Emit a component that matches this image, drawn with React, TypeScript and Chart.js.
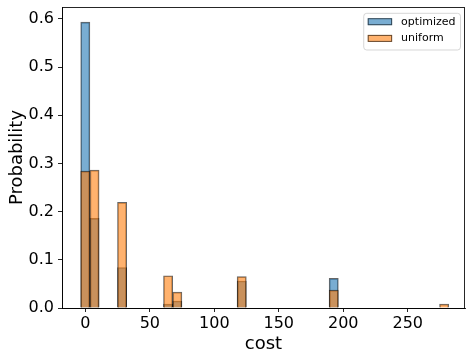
import React, { useEffect, useRef } from 'react';
import { Chart, registerables } from 'chart.js';

Chart.register(...registerables);

// Histogram bins (40 equal bins)
const binStart = -3.6;
const binWidth = 7.135;
const binCount = 40;

// Probability per bin
const optimized = [
  0.593, 0.186, 0, 0, 0.084, 0, 0, 0, 0, 0.008,
  0.0145, 0, 0, 0, 0, 0, 0, 0.056, 0, 0,
  0, 0, 0, 0, 0, 0, 0, 0.0616, 0, 0,
  0, 0, 0, 0, 0, 0, 0, 0, 0, 0,
];
const uniform = [
  0.284, 0.286, 0, 0, 0.219, 0, 0, 0, 0, 0.067,
  0.033, 0, 0, 0, 0, 0, 0, 0.065, 0, 0,
  0, 0, 0, 0, 0, 0, 0, 0.037, 0, 0,
  0, 0, 0, 0, 0, 0, 0, 0, 0, 0.008,
];
const seriesLabels = ['optimized', 'uniform'];
const xTickValues = [0, 50, 100, 150, 200, 250];
const yTickValues = [0, 0.1, 0.2, 0.3, 0.4, 0.5, 0.6];
const xTitle = 'cost';
const yTitle = 'Probability';

const FONT = "'DejaVu Sans', sans-serif";
const fills = ['rgba(31,119,180,0.6)', 'rgba(255,127,14,0.6)'];
const edge = 'rgba(0,0,0,0.6)';
const axisColor = 'rgba(0,0,0,0.85)';

const framePlugin = {
  id: 'frameAndLegend',
  afterDatasetsDraw(chart: any) {
    const { ctx, chartArea } = chart;
    const { left, right, top, bottom } = chartArea;
    ctx.save();
    // frame (spines)
    ctx.strokeStyle = axisColor;
    ctx.lineWidth = 1;
    ctx.strokeRect(left + 0.5, top + 0.5, right - left - 1, bottom - top);

    // legend
    ctx.font = `11px ${FONT}`;
    const labels = chart.data.datasets.map((d: any) => d.label);
    const textW = Math.max(...labels.map((l: string) => ctx.measureText(l).width));
    const padL = 4, patchW = 24.4, gap = 9, padR = 5;
    const boxW = padL + patchW + gap + textW + padR;
    const boxH = 36.7;
    const bx = right - 4.5 - boxW;
    const by = top + 6.3;
    ctx.beginPath();
    if ((ctx as any).roundRect) (ctx as any).roundRect(bx, by, boxW, boxH, 3);
    else ctx.rect(bx, by, boxW, boxH);
    ctx.fillStyle = 'rgba(255,255,255,0.8)';
    ctx.fill();
    ctx.strokeStyle = 'rgba(204,204,204,0.8)';
    ctx.lineWidth = 1;
    ctx.stroke();
    const rowCenters = [by + 8.4, by + 25.1];
    chart.data.datasets.forEach((d: any, i: number) => {
      const cy = rowCenters[i];
      const px = bx + padL;
      const ph = 7;
      ctx.fillStyle = '#fff';
      ctx.fillRect(px, cy - ph / 2, patchW, ph);
      ctx.fillStyle = d.backgroundColor;
      ctx.fillRect(px, cy - ph / 2, patchW, ph);
      ctx.strokeStyle = edge;
      ctx.lineWidth = 1;
      ctx.strokeRect(px + 0.5, cy - ph / 2 + 0.5, patchW - 1, ph - 1);
      ctx.fillStyle = '#000';
      ctx.textAlign = 'left';
      ctx.textBaseline = 'middle';
      ctx.fillText(d.label, px + patchW + gap, cy);
    });
    ctx.restore();
  },
};

export default function App() {
  const ref = useRef<HTMLCanvasElement | null>(null);

  useEffect(() => {
    document.body.style.margin = '0';
    if (!ref.current) return;
    const centers = Array.from({ length: binCount }, (_, i) => binStart + binWidth * (i + 0.5));
    const series = [optimized, uniform];
    const chart = new Chart(ref.current, {
      type: 'bar',
      data: {
        datasets: series.map((vals, s) => ({
          label: seriesLabels[s],
          data: vals.map((y, i) => ({ x: centers[i], y })),
          backgroundColor: fills[s],
          borderColor: edge,
          borderWidth: 1,
          barPercentage: 1,
          categoryPercentage: 1,
          grouped: false,
          order: 2 - s,
        })),
      },
      options: {
        responsive: false,
        animation: false,
        maintainAspectRatio: false,
        layout: { padding: { left: 0, top: 7, right: 9, bottom: 0 } },
        plugins: {
          legend: { display: false },
          tooltip: { enabled: false },
        },
        scales: {
          x: {
            type: 'linear',
            offset: false,
            min: -18.1,
            max: 294.4,
            afterBuildTicks: (scale: any) => {
              scale.ticks = xTickValues.map((v) => ({ value: v }));
            },
            afterFit: (scale: any) => {
              scale.height = 52;
              scale.paddingLeft = 0;
              scale.paddingRight = 0;
            },
            ticks: {
              color: '#000',
              font: { family: FONT, size: 16 },
              padding: 2,
              maxRotation: 0,
              callback: (v: any) => String(v),
            },
            grid: {
              display: true,
              offset: false,
              drawOnChartArea: false,
              drawTicks: true,
              tickLength: 4,
              color: axisColor,
            },
            border: { display: true, color: axisColor, width: 1 },
            title: {
              display: true,
              text: xTitle,
              color: '#000',
              font: { family: FONT, size: 18 },
              padding: { top: 0, bottom: 5 },
            },
          },
          y: {
            type: 'linear',
            min: 0,
            max: 0.6245,
            afterBuildTicks: (scale: any) => {
              scale.ticks = yTickValues.map((v) => ({ value: v }));
            },
            afterFit: (scale: any) => {
              scale.width = 62;
              scale.paddingTop = 0;
              scale.paddingBottom = 0;
            },
            ticks: {
              color: '#000',
              font: { family: FONT, size: 16 },
              padding: 4,
              callback: (v: any) => Number(v).toFixed(1),
            },
            grid: {
              display: true,
              drawOnChartArea: false,
              drawTicks: true,
              tickLength: 4,
              color: axisColor,
            },
            border: { display: true, color: axisColor, width: 1 },
            title: {
              display: true,
              text: yTitle,
              color: '#000',
              font: { family: FONT, size: 18 },
              padding: { top: 7, bottom: 0 },
            },
          },
        },
      },
      plugins: [framePlugin],
    } as any);
    return () => chart.destroy();
  }, []);

  return (
    <div style={{ width: 474, height: 360 }}>
      <canvas ref={ref} width={474} height={360} style={{ display: 'block' }} />
    </div>
  );
}
